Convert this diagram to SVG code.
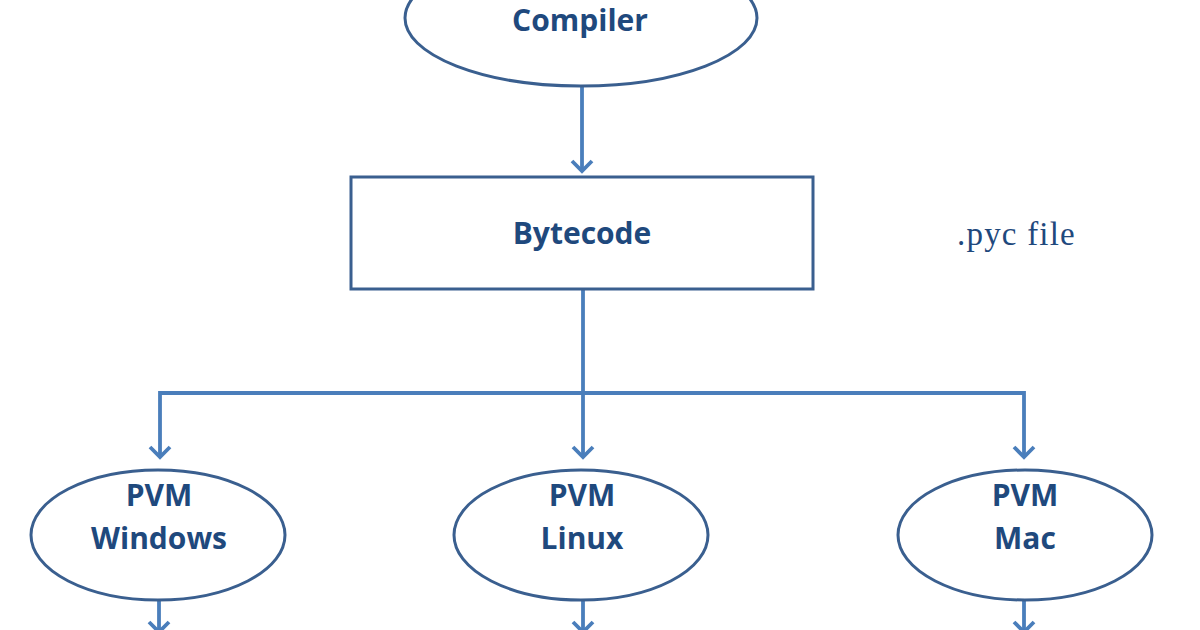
<svg xmlns="http://www.w3.org/2000/svg" width="1200" height="630" viewBox="0 0 1200 630">
<style>
.node{fill:#ffffff;stroke:#3a5f8f;stroke-width:3}
.lbl{font-family:"Open Sans",Lato,"Liberation Sans",sans-serif;font-weight:700;font-size:30px;fill:#1f497d;text-anchor:middle}
.note{font-family:"Liberation Serif",serif;font-size:33px;letter-spacing:1.2px;fill:#1f497d}
.conn{fill:none;stroke:#4a7ebb;stroke-width:3.8;stroke-linejoin:miter}
</style>
<defs>
<marker id="arr" markerUnits="userSpaceOnUse" viewBox="-14 -14 28 28" markerWidth="28" markerHeight="28" refX="0" refY="0" orient="auto">
<path d="M-10,-10 L0,0 L-10,10" fill="none" stroke="#4a7ebb" stroke-width="3.8"/>
</marker>
</defs>
<rect width="1200" height="630" fill="#ffffff"/>
<g id="connectors">
<path class="conn" d="M582,86 V171" marker-end="url(#arr)"/>
<path class="conn" d="M583,289 V457" marker-end="url(#arr)"/>
<path class="conn" d="M583,393 H160 V457" marker-end="url(#arr)"/>
<path class="conn" d="M583,393 H1024 V457" marker-end="url(#arr)"/>
<path class="conn" d="M159,600 V632" marker-end="url(#arr)"/>
<path class="conn" d="M583,600 V632" marker-end="url(#arr)"/>
<path class="conn" d="M1024,600 V632" marker-end="url(#arr)"/>
</g>
<g id="compiler">
<ellipse class="node" cx="581" cy="18" rx="176" ry="68"/>
<text class="lbl" x="580" y="31">Compiler</text>
</g>
<g id="bytecode">
<rect class="node" x="351" y="177" width="462" height="112"/>
<text class="lbl" x="582" y="244">Bytecode</text>
</g>
<g id="pyc">
<text class="note" x="957" y="245">.pyc file</text>
</g>
<g id="pvm-windows">
<ellipse class="node" cx="158" cy="535" rx="127" ry="65"/>
<text class="lbl" x="159" y="506">PVM</text>
<text class="lbl" x="159" y="549">Windows</text>
</g>
<g id="pvm-linux">
<ellipse class="node" cx="581" cy="535" rx="127" ry="65"/>
<text class="lbl" x="582" y="506">PVM</text>
<text class="lbl" x="582" y="549">Linux</text>
</g>
<g id="pvm-mac">
<ellipse class="node" cx="1025" cy="535" rx="127" ry="65"/>
<text class="lbl" x="1025" y="506">PVM</text>
<text class="lbl" x="1025" y="549">Mac</text>
</g>
</svg>
